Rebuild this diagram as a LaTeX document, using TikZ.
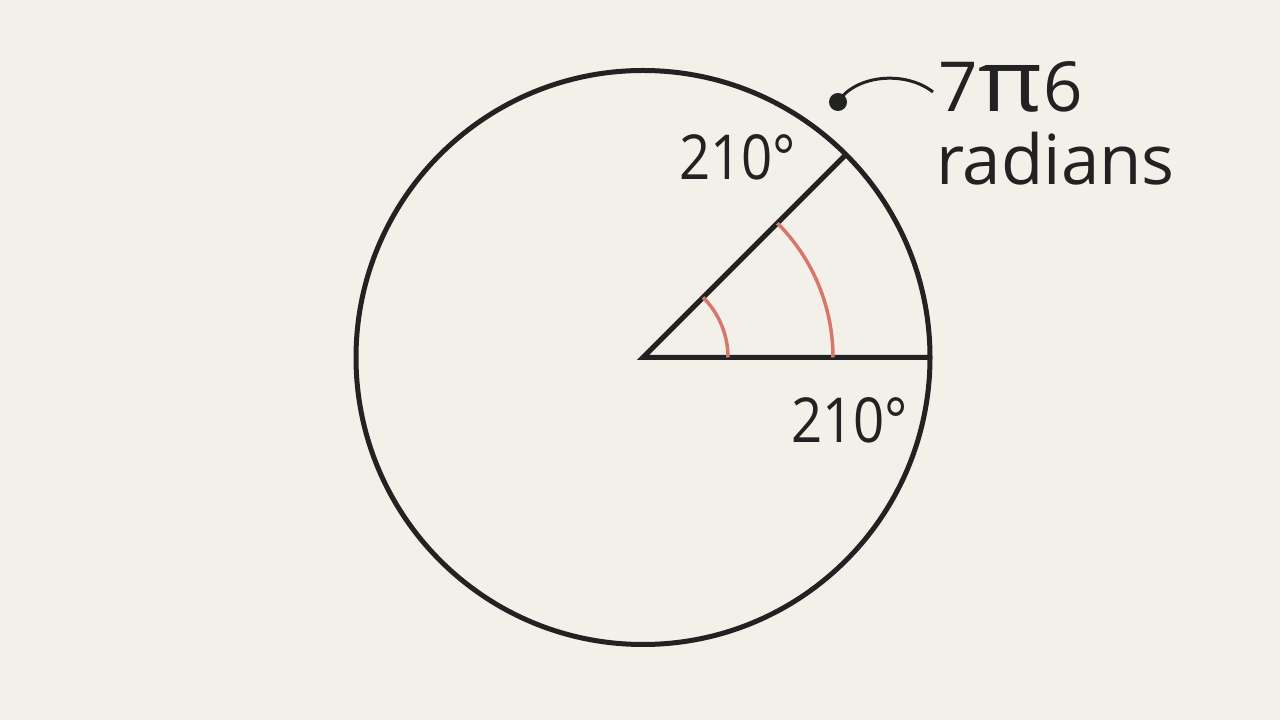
\documentclass[tikz,border=0pt]{standalone}
\usepackage{fontspec}
\setmainfont{Open Sans}
\definecolor{bg}{HTML}{F3F0EA}
\definecolor{ink}{HTML}{222222}
\definecolor{arcred}{HTML}{D9766C}
\begin{document}
\begin{tikzpicture}[x=1pt,y=1pt,
  lbl/.style={inner sep=0pt, text=ink, anchor=base west, font=\fontsize{62}{70}\selectfont},
  big/.style={lbl, font=\fontsize{69}{75}\selectfont},
  heavy/.style={draw=ink, line width=5pt},
  redarc/.style={draw=arcred, line width=3.5pt}]
\fill[bg] (0,0) rectangle (1280,720);
\useasboundingbox (0,0) rectangle (1280,720);
\coordinate (O) at (643,362.5);
\draw[heavy] (O) circle[radius=287];
\path (O) ++(45:287) coordinate (A);
\path (O) ++(0:287) coordinate (B);
\draw[heavy, line join=miter] (A) -- (O) -- (B);
\path (O) ++(0:85) coordinate (s1);
\path (O) ++(0:190) coordinate (s2);
\draw[redarc] (s1) arc[start angle=0, end angle=45, radius=85];
\draw[redarc] (s2) arc[start angle=0, end angle=45, radius=190];
\node[lbl] (up) at (679,540) {\scalebox{0.88}[1]{210°}};
\node[lbl] (low) at (791,277) {\scalebox{0.88}[1]{210°}};
\node[big] (frac) at (938,608) {7\kern1pt\scalebox{1.15}[1]{\fontsize{86}{90}\selectfont π}\kern1pt6};
\node[big] (rad) at (936,535) {radians};
\coordinate (D) at (838,618);
\coordinate (E) at (933,628);
\fill[ink] (D) circle[radius=9];
\draw[ink, line width=3pt] (D) .. controls (855,645) and (905,650) .. (E);
\end{tikzpicture}
\end{document}
